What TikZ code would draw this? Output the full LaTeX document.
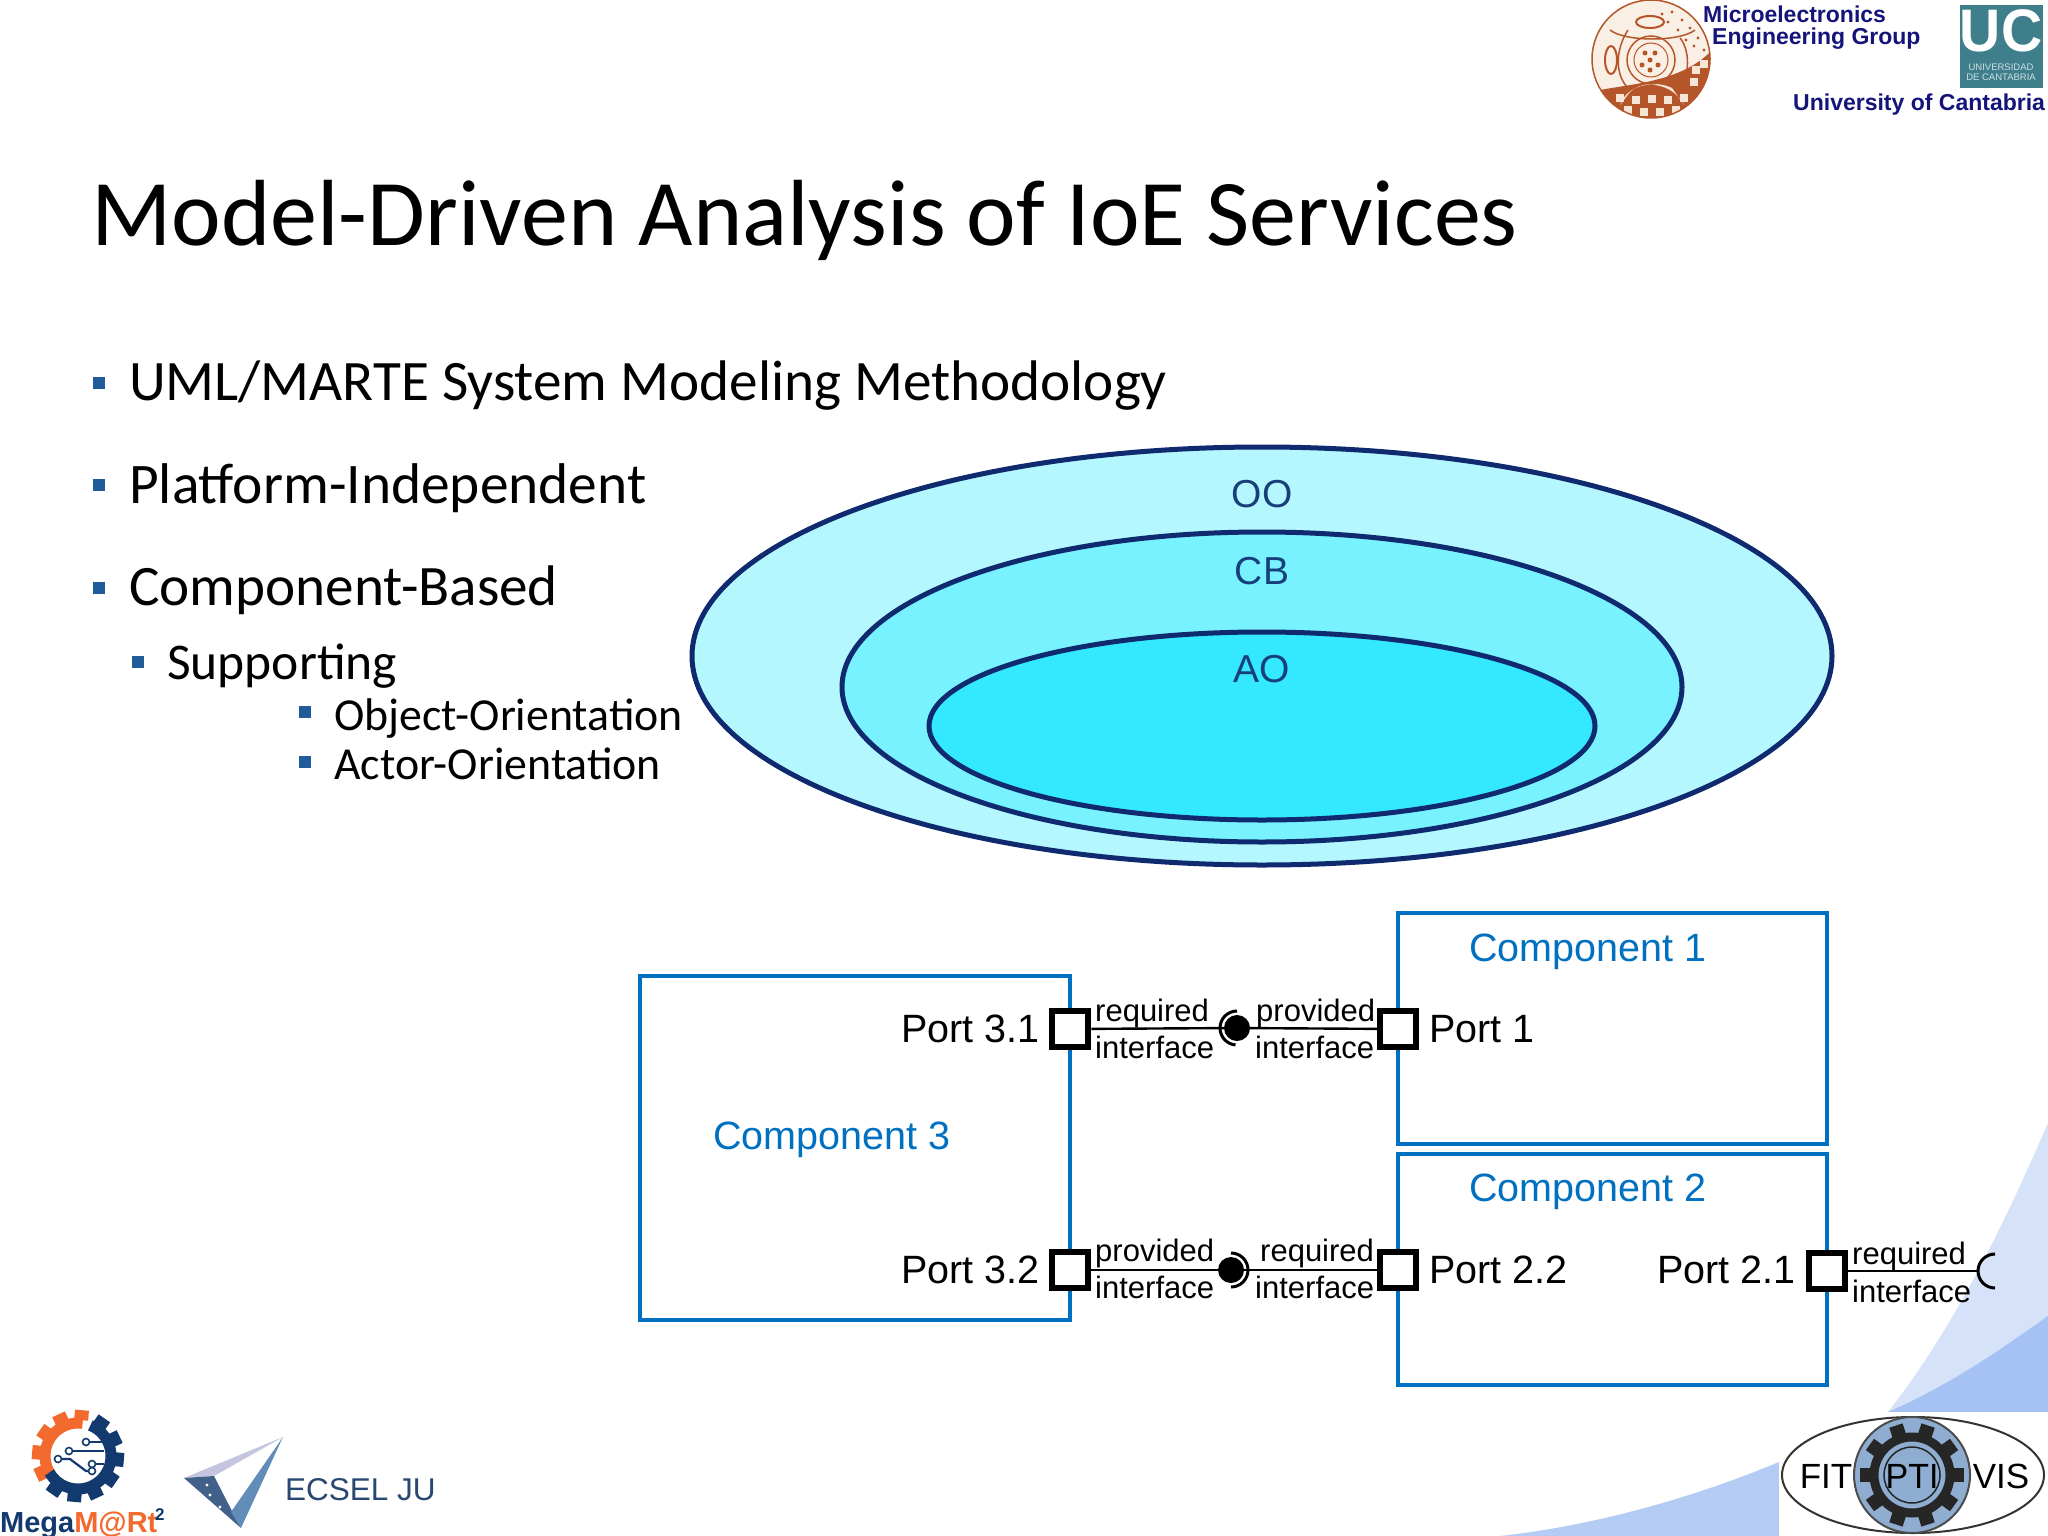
\documentclass[tikz,border=0pt]{standalone}
\usepackage{fontspec}
\setmainfont{Liberation Sans}
\newfontfamily\calfont{Carlito}
\usetikzlibrary{shapes.geometric,calc}
\definecolor{navyline}{HTML}{0F2A6E}
\definecolor{ooc}{HTML}{B5F7FF}
\definecolor{cbc}{HTML}{78F2FF}
\definecolor{aoc}{HTML}{33E8FF}
\definecolor{compblue}{HTML}{0070C0}
\definecolor{elltxt}{HTML}{17407A}
\definecolor{bulletc}{HTML}{1F5C99}
\definecolor{pale}{HTML}{D5E2F8}
\definecolor{mid}{HTML}{A6C1F3}
\definecolor{low}{HTML}{B4CCF3}
\definecolor{uni}{HTML}{14147A}
\definecolor{teal}{HTML}{3F7F8C}
\definecolor{brownc}{HTML}{B5562A}
\definecolor{cream}{HTML}{F6E4D4}
\definecolor{orangec}{HTML}{F26A2E}
\definecolor{navyc}{HTML}{123A6E}
\definecolor{ptiblue}{HTML}{8FADD0}
\newcommand{\px}[1]{\fontsize{#1}{#1}\selectfont}
\tikzset{
  ell/.style={ellipse,draw=navyline,line width=5pt,inner sep=0pt},
  comp/.style={rectangle,draw=compblue,line width=4pt,inner sep=0pt,fill=white},
  port/.style={rectangle,draw=black,line width=6.5pt,fill=white,minimum size=36pt,inner sep=0pt},
  ball/.style={circle,fill=black,minimum size=26pt,inner sep=0pt},
  wire/.style={draw=black,line width=2.4pt},
  sock/.style={draw=black,line width=3pt},
  lbl/.style={anchor=base west,inner sep=0pt,font=\px{31}},
  portlbl/.style={anchor=base west,inner sep=0pt,font=\px{39.5}},
  complbl/.style={anchor=base west,inner sep=0pt,font=\px{39.5},text=compblue},
  elllbl/.style={anchor=base,inner sep=0pt,font=\px{39},text=elltxt},
  blt/.style={rectangle,fill=bulletc,inner sep=0pt,minimum size=12pt},
  body/.style={anchor=base west,inner sep=0pt,text=black},
  logotxt/.style={anchor=base west,inner sep=0pt,text=uni,font=\px{23}\bfseries},
}
\begin{document}
\begin{tikzpicture}[x=1pt,y=-1pt]
\useasboundingbox (0,0) rectangle (2048,1536);
\fill[white] (0,0) rectangle (2048,1536);
% background swooshes
\fill[pale] (1888,1412) .. controls (1960,1320) and (2010,1210) .. (2048,1123) -- (2048,1412) -- cycle;
\fill[mid] (1888,1412) .. controls (1950,1385) and (2000,1350) .. (2048,1316) -- (2048,1412) -- cycle;
\fill[low] (1500,1536) .. controls (1600,1525) and (1700,1495) .. (1779,1462) -- (1779,1536) -- cycle;
% title and text
\node[body,font=\calfont\px{94}] (title) at (91,245) {Model-Driven Analysis of IoE Services};
\node[blt] (b1) at (99,383) {};
\node[body,font=\calfont\px{57.2}] (t1) at (129,400) {UML/MARTE System Modeling Methodology};
\node[blt] (b2) at (99,485) {};
\node[body,font=\calfont\px{57.4}] (t2) at (129,503) {Platform-Independent};
\node[blt] (b3) at (99,588) {};
\node[body,font=\calfont\px{57.2}] (t3) at (129,605) {Component-Based};
\node[blt] (b4) at (138,662) {};
\node[body,font=\calfont\px{51.5}] (t4) at (167,679) {Supporting};
\node[blt] (b5) at (305,712) {};
\node[body,font=\calfont\px{45.8}] (t5) at (334,730) {Object-Orientation};
\node[blt] (b6) at (305,762) {};
\node[body,font=\calfont\px{45.8}] (t6) at (334,779) {Actor-Orientation};
% ellipses
\node[ell,fill=ooc,minimum width=1140pt,minimum height=418pt] (oo) at (1262,656) {};
\node[ell,fill=cbc,minimum width=840pt,minimum height=310pt] (cb) at (1262,687) {};
\node[ell,fill=aoc,minimum width=666pt,minimum height=188pt] (ao) at (1262,726) {};
\node[elllbl] (ool) at (1262,507) {OO};
\node[elllbl] (cbl) at (1262,584) {CB};
\node[elllbl] (aol) at (1262,682) {AO};
% components
\node[comp,minimum width=429pt,minimum height=231pt] (c1) at (1612.5,1028) {};
\node[comp,minimum width=429pt,minimum height=231pt] (c2) at (1612.5,1269) {};
\node[comp,minimum width=430pt,minimum height=344pt] (c3) at (855,1148) {};
\node[complbl] (c1l) at (1469,961) {Component 1};
\node[complbl] (c2l) at (1469,1201) {Component 2};
\node[complbl] (c3l) at (713,1149) {Component 3};
% ports
\node[port] (p31) at (1070,1029) {};
\node[port] (p1) at (1398,1029) {};
\node[port] (p32) at (1070,1270) {};
\node[port] (p22) at (1398,1270) {};
\node[port] (p21) at (1827,1271) {};
\node[ball] (bu) at (1237,1028) {};
\node[ball] (bl) at (1231,1270) {};
\coordinate (s21) at (1978,1271);
\draw[wire] (p31) -- (bu);
\draw[wire] (bu) -- (p1);
\draw[wire] (p32) -- (bl);
\draw[wire] (bl) -- (p22);
\draw[wire] (p21) -- (s21);
\draw[sock] ($(bu)+(0,-17)$) arc[start angle=90,end angle=265,radius=17pt];
\draw[sock] ($(bl)+(0,-17)$) arc[start angle=90,end angle=-90,radius=17pt];
\draw[sock] ($(s21)+(17,-17)$) arc[start angle=90,end angle=270,radius=17pt];
\node[portlbl] (lp31) at (901,1042) {Port 3.1};
\node[portlbl] (lp32) at (901,1283) {Port 3.2};
\node[portlbl] (lp1) at (1429,1042) {Port 1};
\node[portlbl] (lp22) at (1429,1283) {Port 2.2};
\node[portlbl] (lp21) at (1657,1283) {Port 2.1};
\node[lbl] (r1) at (1095,1021) {required};
\node[lbl] (i1) at (1095,1058) {interface};
\node[lbl] (r2) at (1256,1021) {provided};
\node[lbl] (i2) at (1255,1058) {interface};
\node[lbl] (r3) at (1095,1261) {provided};
\node[lbl] (i3) at (1095,1298) {interface};
\node[lbl] (r4) at (1260,1261) {required};
\node[lbl] (i4) at (1255,1298) {interface};
\node[lbl] (r5) at (1852,1264) {required};
\node[lbl] (i5) at (1852,1302) {interface};
% top-right logos
\fill[cream!60!white] (1651,59) circle[radius=59pt];
\begin{scope}
\clip (1651,59) circle[radius=59pt];
\fill[brownc] (1592,92) .. controls (1620,84) and (1680,85) .. (1712,50) -- (1712,120) -- (1592,120) -- cycle;
\fill[cream] (1620,105) .. controls (1630,78) and (1670,78) .. (1684,105) -- (1672,88) .. controls (1660,82) and (1640,82) .. (1630,92) -- cycle;
\foreach \p/\q in {1616/94,1632/96,1648/95,1664/96,1680/94,1624/106,1640/108,1656/108,1672/106,1690/78,1700/60,1692/66}
  \fill[cream] (\p,\q) rectangle +(8,8);
\foreach \p/\q in {1672/12,1682/20,1690/28,1698/38,1678/30,1668/22,1686/40,1662/14,1694/46,1704/50}
  \fill[brownc] (\p,\q) circle[radius=1.6pt];
\end{scope}
\draw[brownc,line width=1.5pt] (1651,59) circle[radius=59pt];
\draw[brownc,line width=1.5pt] (1651,60) circle[radius=24pt];
\draw[brownc,line width=1pt] (1651,60) circle[radius=17pt];
\foreach \p/\q in {1645/53,1655/53,1650/60,1642/65,1658/65,1650/70}
  \fill[brownc] (\p,\q) circle[radius=2.5pt];
\draw[brownc,line width=2pt] (1650,22) ellipse[x radius=14pt,y radius=6pt];
\draw[brownc,line width=2pt] (1611,60) ellipse[x radius=6pt,y radius=14pt];
\draw[brownc,line width=1.5pt] (1610,30) .. controls (1625,42) and (1680,42) .. (1695,30);
\draw[brownc,line width=1.5pt] (1628,30) .. controls (1615,50) and (1615,75) .. (1628,88);
\draw[brownc,line width=1.5pt] (1680,38) .. controls (1690,50) and (1690,75) .. (1680,88);
\node[logotxt] (meg1) at (1703,23) {Microelectronics};
\node[logotxt] (meg2) at (1712,45) {Engineering Group};
\node[logotxt] (meg3) at (1793,111) {University of Cantabria};
\node[rectangle,fill=teal,minimum width=83pt,minimum height=83pt,inner sep=0pt] (uc) at (2001.5,46.5) {};
\node[anchor=base,inner sep=0pt,text=white,font=\px{60}\bfseries,xscale=0.95] (uct) at (2001,52) {UC};
\node[anchor=base,inner sep=0pt,text=white!75!teal,font=\px{9.5}] (uc2) at (2001,71) {UNIVERSIDAD};
\node[anchor=base,inner sep=0pt,text=white!75!teal,font=\px{9.5}] (uc3) at (2001,81) {DE CANTABRIA};
% MegaM@Rt logo
\begin{scope}[shift={(78,1456)},x=1pt,y=1pt]
  \foreach \a in {85,115,145,175,205} \fill[orangec,rotate=\a] (36,-7) rectangle (46,7);
  \foreach \a in {-125,-95,...,55} \fill[navyc,rotate=\a] (36,-7) rectangle (46,7);
  \foreach \a in {235} \fill[navyc,rotate=\a] (36,-7) rectangle (46,7);
  \draw[orangec,line width=11pt] (82:33) arc[start angle=82,end angle=212,radius=33pt];
  \draw[navyc,line width=11pt] (68:33) arc[start angle=68,end angle=-150,radius=33pt];
  \draw[navyc,line width=2.2pt] (-20,-3) -- (-8,-3) -- (8,-15) -- (14,-15);
  \draw[navyc,line width=2.2pt] (-7,5) -- (26,5);
  \draw[navyc,line width=2.2pt] (10,14) -- (26,14);
  \draw[navyc,line width=2.2pt] (14,-8) -- (26,-8);
  \foreach \p/\q in {-20/-3,-9/5,8/14,14/-15,14/-8} \draw[navyc,line width=1.6pt,fill=white] (\p,\q) circle[radius=3.5pt];
\end{scope}
\node[anchor=base west,inner sep=0pt,font=\px{29}\bfseries,xscale=1.0] (mega) at (0,1532) {\textcolor{navyc}{Mega}\textcolor{orangec}{M@Rt}};
\node[anchor=base west,inner sep=0pt,font=\px{17}\bfseries,text=navyc] (mega2) at (155,1520) {2};
% ECSEL
\fill[blue!30!gray!35!white] (184,1478) -- (283,1437) -- (214,1476) -- cycle;
\fill[navyc!80!white] (184,1478) -- (214,1476) -- (233,1513) -- (241,1528) -- cycle;
\fill[bulletc!70!white] (283,1437) -- (241,1528) -- (231,1512) -- cycle;
\foreach \p/\q in {207/1485,210/1495,220/1507} \fill[white] (\p,\q) circle[radius=1.6pt];
\node[anchor=base west,inner sep=0pt,font=\px{31.5},text=navyc!80!gray] (ecsel) at (285,1500) {ECSEL JU};
% FIT PTI VIS logo
\fill[white] (1779,1412) rectangle (2048,1536);
\node[ellipse,draw=black!80,line width=2pt,minimum width=262pt,minimum height=116pt,inner sep=0pt,fill=white] (fit) at (1913,1475) {};
\node[circle,draw=black!70,line width=2pt,fill=ptiblue,minimum size=116pt,inner sep=0pt] (ptic) at (1912,1475) {};
\foreach \a in {0,36,...,324} \fill[black!85,rotate around={\a:(1912,1475)}] (1952,1468) rectangle (1964,1482);
\draw[black!85,line width=9pt] (1912,1475) circle[radius=38pt];
\draw[black!85,line width=1.5pt] (1912,1475) circle[radius=28pt];
\node[anchor=base,inner sep=0pt,font=\px{35},xscale=1.0] (fitt) at (1826,1488) {FIT};
\node[anchor=base,inner sep=0pt,font=\px{35},xscale=0.97] (ptit) at (1912,1488) {PTI};
\node[anchor=base,inner sep=0pt,font=\px{35},xscale=1.0] (vist) at (2001,1488) {VIS};
\end{tikzpicture}
\end{document}
